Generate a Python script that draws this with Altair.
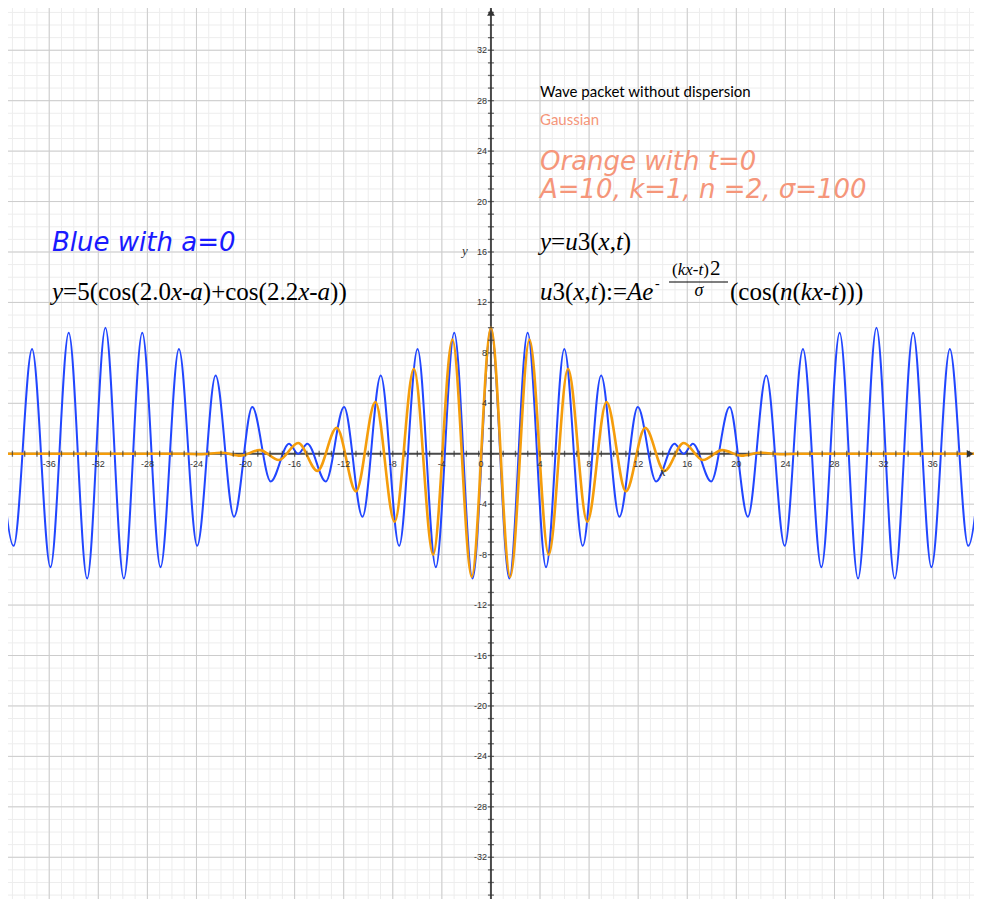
import altair as alt
import pandas as pd

# ---------------- data ----------------
# blue curve: extrema (and the touching node near |x|=15.7)
blue_x = [-40.39, -38.90, -37.40, -35.90, -34.41, -32.91, -31.42, -29.92, -28.42,
          -26.93, -25.43, -23.94, -22.44, -20.94, -19.45, -17.95, -16.46, -15.71,
          -14.96, -13.46, -11.97, -10.47, -8.98, -7.48, -5.98, -4.49, -2.99, -1.50,
          0.0, 1.50, 2.99, 4.49, 5.98, 7.48, 8.98, 10.47, 11.97, 13.46, 14.96,
          15.71, 16.46, 17.95, 19.45, 20.94, 22.44, 23.94, 25.43, 26.93, 28.42,
          29.92, 31.42, 32.91, 34.41, 35.90, 37.40, 38.90, 40.39]
blue_y = [6.2, -7.3, 8.3, -9.0, 9.6, -9.9, 10.0, -9.9, 9.6,
          -9.0, 8.3, -7.3, 6.2, -5.0, 3.7, -2.2, 0.8, 0.0,
          0.8, -2.2, 3.7, -5.0, 6.2, -7.3, 8.3, -9.0, 9.6, -9.9,
          10.0, -9.9, 9.6, -9.0, 8.3, -7.3, 6.2, -5.0, 3.7, -2.2, 0.8,
          0.0, 0.8, -2.2, 3.7, -5.0, 6.2, -7.3, 8.3, -9.0, 9.6,
          -9.9, 10.0, -9.9, 9.6, -9.0, 8.3, -7.3, 6.2]

# orange curve: extrema of the gaussian packet, flat outside
orange_x = [-40.0, -25.13, -23.56, -21.99, -20.42, -18.85, -17.28, -15.71, -14.14,
            -12.57, -11.00, -9.42, -7.85, -6.28, -4.71, -3.14, -1.57, 0.0,
            1.57, 3.14, 4.71, 6.28, 7.85, 9.42, 11.00, 12.57, 14.14, 15.71,
            17.28, 18.85, 20.42, 21.99, 23.56, 25.13, 40.0]
orange_y = [0.0, 0.0, -0.04, 0.08, -0.15, 0.29, -0.50, 0.85, -1.36,
            2.06, -2.99, 4.11, -5.40, 6.74, -8.01, 9.06, -9.76, 10.0,
            -9.76, 9.06, -8.01, 6.74, -5.40, 4.11, -2.99, 2.06, -1.36, 0.85,
            -0.50, 0.29, -0.15, 0.08, -0.04, 0.0, 0.0]

# axis ticks / labels / grid values
tick_x = list(range(-39, 40))
tick_y = list(range(-35, 36))
label_x = [-36, -32, -28, -24, -20, -16, -12, -8, -4, 4, 8, 12, 16, 20, 24, 28, 32, 36]
label_y = [-32, -28, -24, -20, -16, -12, -8, -4, 4, 8, 12, 16, 20, 24, 28, 32]
grid_minor_x = list(range(-39, 40))
grid_minor_y = list(range(-35, 36))
grid_major_x = [-36, -32, -28, -24, -20, -16, -12, -8, -4, 0, 4, 8, 12, 16, 20, 24, 28, 32, 36]
grid_major_y = [-32, -28, -24, -20, -16, -12, -8, -4, 0, 4, 8, 12, 16, 20, 24, 28, 32]

# ---------------- layout ----------------
W, H = 966, 891
xs = alt.Scale(domain=[-39.36, 39.37], nice=False, zero=False)
ys = alt.Scale(domain=[-35.31, 35.35], nice=False, zero=False)


def X(f):
    return alt.X(f, scale=xs, axis=None)


def Y(f):
    return alt.Y(f, scale=ys, axis=None)


layers = []

# grid
layers.append(alt.Chart(pd.DataFrame({'x': grid_minor_x})).mark_rule(
    color='#ededed', strokeWidth=1).encode(x=X('x:Q')))
layers.append(alt.Chart(pd.DataFrame({'y': grid_minor_y})).mark_rule(
    color='#ededed', strokeWidth=1).encode(y=Y('y:Q')))
layers.append(alt.Chart(pd.DataFrame({'x': grid_major_x})).mark_rule(
    color='#cccccc', strokeWidth=1).encode(x=X('x:Q')))
layers.append(alt.Chart(pd.DataFrame({'y': grid_major_y})).mark_rule(
    color='#cccccc', strokeWidth=1).encode(y=Y('y:Q')))

# axis lines
layers.append(alt.Chart(pd.DataFrame({'x': [0]})).mark_rule(
    color='#4a4a4a', strokeWidth=2).encode(x=X('x:Q')))
layers.append(alt.Chart(pd.DataFrame({'y': [0]})).mark_rule(
    color='#4a4a4a', strokeWidth=2).encode(y=Y('y:Q')))

# curves
blue_df = pd.DataFrame({'x': blue_x, 'y': blue_y})
orange_df = pd.DataFrame({'x': orange_x, 'y': orange_y})
layers.append(alt.Chart(blue_df).mark_line(
    color='#2146ff', strokeWidth=2, interpolate='monotone', clip=True).encode(
    x=X('x:Q'), y=Y('y:Q')))
layers.append(alt.Chart(orange_df).mark_line(
    color='#f59d0b', strokeWidth=2.6, interpolate='monotone', clip=True).encode(
    x=X('x:Q'), y=Y('y:Q')))

# ticks
layers.append(alt.Chart(pd.DataFrame({'x': tick_x, 'y': [0] * len(tick_x)})).mark_tick(
    orient='vertical', size=6, thickness=1.3, color='#333333').encode(
    x=X('x:Q'), y=Y('y:Q')))
layers.append(alt.Chart(pd.DataFrame({'x': [0] * len(tick_y), 'y': tick_y})).mark_tick(
    orient='horizontal', size=6, thickness=1.3, color='#333333').encode(
    x=X('x:Q'), y=Y('y:Q')))

# tick labels
lab_font = 'Liberation Sans'
layers.append(alt.Chart(pd.DataFrame({'x': label_x, 'y': [0] * len(label_x),
                                      'label': [str(v) for v in label_x]})).mark_text(
    dy=10, align='center', baseline='middle', fontSize=9, font=lab_font,
    color='#333333').encode(x=X('x:Q'), y=Y('y:Q'), text='label:N'))
layers.append(alt.Chart(pd.DataFrame({'x': [0] * len(label_y), 'y': label_y,
                                      'label': [str(v) for v in label_y]})).mark_text(
    dx=-4, align='right', baseline='middle', fontSize=9, font=lab_font,
    color='#333333').encode(x=X('x:Q'), y=Y('y:Q'), text='label:N'))
layers.append(alt.Chart(pd.DataFrame({'x': [0], 'y': [0], 'label': ['0']})).mark_text(
    dx=-10, dy=10, align='center', baseline='middle', fontSize=9, font=lab_font,
    color='#333333').encode(x=X('x:Q'), y=Y('y:Q'), text='label:N'))

# axis arrows
layers.append(alt.Chart(pd.DataFrame({'x': [0], 'y': [35.0]})).mark_point(
    shape='triangle-up', filled=True, size=60, color='#333333', opacity=1).encode(
    x=X('x:Q'), y=Y('y:Q')))
layers.append(alt.Chart(pd.DataFrame({'x': [39.05], 'y': [0]})).mark_point(
    shape='triangle-right', filled=True, size=60, color='#333333', opacity=1).encode(
    x=X('x:Q'), y=Y('y:Q')))


# ---------------- text annotations ----------------
def txt(s, px, py, size, font, color='black', italic=False, align='left'):
    return alt.Chart(pd.DataFrame({'t': [s]})).mark_text(
        align=align, baseline='alphabetic', fontSize=size, font=font,
        fontStyle='italic' if italic else 'normal', color=color).encode(
        x=alt.value(px - 8), y=alt.value(py - 8), text='t:N')


TW_R = {'=': 0.564, '+': 0.564, '(': 0.333, ')': 0.333, 'c': 0.444, 'o': 0.5,
        's': 0.389, '.': 0.25, '-': 0.333, ',': 0.25, ':': 0.278}
TW_I = {'y': 0.444, 'x': 0.444, 'a': 0.5, 'u': 0.5, 't': 0.278, 'A': 0.611,
        'e': 0.444, 'k': 0.444, 'n': 0.5}


def flow(segs, px, py, size, color='black'):
    out = []
    cur = px
    for s, it in segs:
        out.append(txt(s, cur, py, size, 'Liberation Serif', color, italic=it))
        table = TW_I if it else TW_R
        cur += sum(table.get(ch, 0.5) for ch in s) * size
    return out


salmon = '#f5967a'
layers.append(txt('Wave packet without dispersion', 540, 97, 15, 'Lato', 'black'))
layers.append(txt('Gaussian', 540, 125, 15, 'Lato', salmon))
layers.append(txt('Orange with t=0', 540, 170, 26, 'DejaVu Sans', salmon, italic=True))
layers.append(txt('A=10, k=1, n =2, σ=100', 540, 198, 26, 'DejaVu Sans', salmon, italic=True))
layers.append(txt('Blue with a=0', 52, 251, 26, 'DejaVu Sans', '#1a1aff', italic=True))

layers += flow([('y', True), ('=5(cos(2.0', False), ('x', True), ('-', False),
                ('a', True), (')+cos(2.2', False), ('x', True), ('-', False),
                ('a', True), ('))', False)], 52, 300, 25)
layers += flow([('y', True), ('=', False), ('u', True), ('3(', False), ('x', True),
                (',', False), ('t', True), (')', False)], 540, 250, 25)
layers += flow([('u', True), ('3(', False), ('x', True), (',', False), ('t', True),
                ('):=', False), ('Ae', True)], 540, 300, 25)
layers.append(txt('-', 655, 288, 14, 'Liberation Serif'))
layers += flow([('(', False), ('kx', True), ('-', False), ('t', True), (')', False)],
               672, 275, 17)
layers.append(txt('2', 710, 275, 21, 'Liberation Serif'))
layers.append(alt.Chart(pd.DataFrame({'a': [0]})).mark_rule(
    color='black', strokeWidth=1.2).encode(
    x=alt.value(669 - 8), x2=alt.value(728 - 8), y=alt.value(282 - 8)))
layers.append(txt('σ', 699, 296, 18, 'Liberation Serif', italic=True, align='center'))
layers += flow([('(cos(', False), ('n', True), ('(', False), ('kx', True),
                ('-', False), ('t', True), (')))', False)], 730, 300, 25)

# axis names
layers.append(txt('y', 465, 255, 13, 'Liberation Serif', '#333333', italic=True, align='center'))
layers.append(txt('x', 663, 476, 13, 'Liberation Serif', '#333333', italic=True, align='center'))

chart = alt.layer(*layers).properties(
    width=W, height=H, padding=0, autosize='none', background='white'
).configure_view(stroke=None)

chart.save("out.html", embed_options={"renderer": "svg", "actions": False})
